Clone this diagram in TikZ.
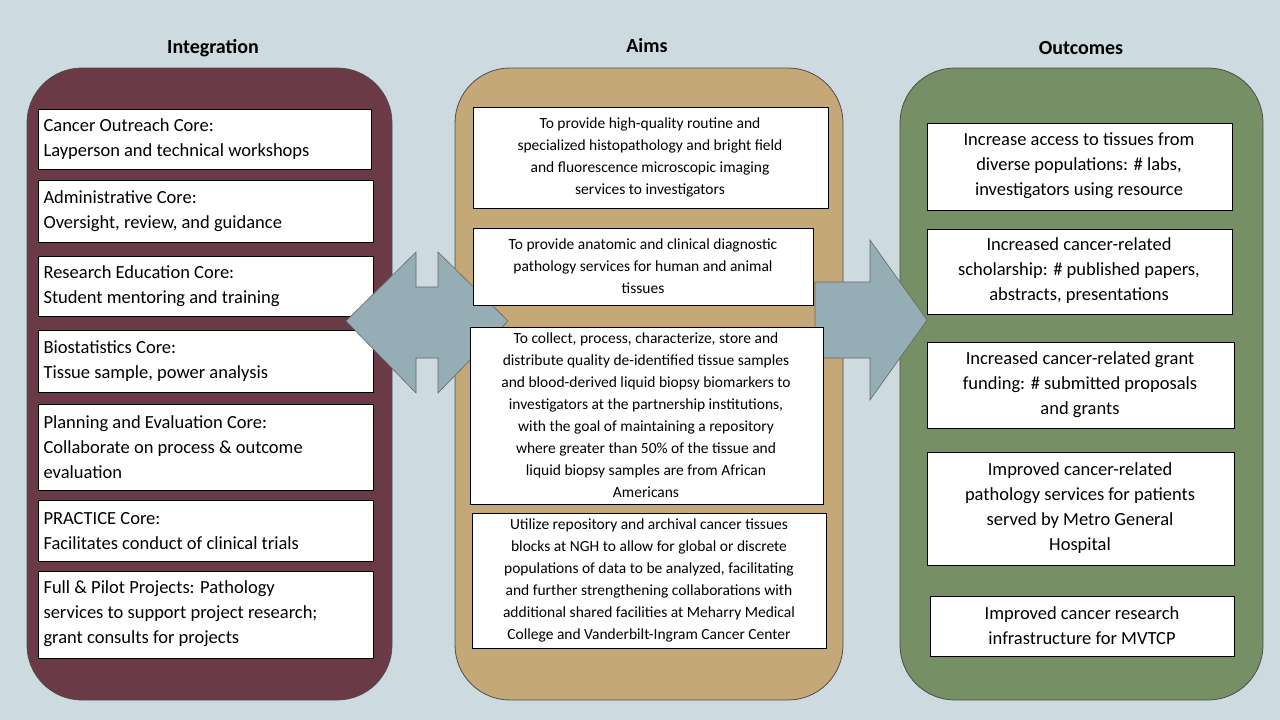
\documentclass[tikz,border=0pt]{standalone}
\usepackage{fontspec}
\setmainfont{Carlito}
\begin{document}
\begin{tikzpicture}[x=1pt,y=-1pt,
  panel/.style={draw=black!70,line width=0.8pt,rounded corners=55pt},
  lbox/.style={draw=black,fill=white,line width=0.6pt},
  arr/.style={draw=black!60,fill=arrowc,line width=0.6pt},
  ltxt/.style={anchor=west,align=left,font=\fontsize{18.5}{25}\selectfont},
  mtxt/.style={align=center,font=\fontsize{15.5}{22}\selectfont},
  rtxt/.style={align=center,font=\fontsize{18.5}{25}\selectfont},
  ttl/.style={font=\bfseries\fontsize{20}{24}\selectfont}]
\definecolor{bgc}{HTML}{CDDBE0}
\definecolor{marc}{HTML}{6B3A47}
\definecolor{tanc}{HTML}{C4A878}
\definecolor{grnc}{HTML}{778F65}
\definecolor{arrowc}{HTML}{95AEB5}
\fill[bgc] (0,0) rectangle (1280,720);
\useasboundingbox (0,0) rectangle (1280,720);
\draw[panel,fill=marc] (27,68) rectangle (392,700);
\draw[panel,fill=tanc] (455,68) rectangle (843,700);
\draw[panel,fill=grnc] (900,68) rectangle (1263,700);
\node[ttl] (t1) at (213,48) {Integration};
\node[ttl] (t2) at (647,46) {Aims};
\node[ttl] (t3) at (1081,48) {Outcomes};
% left boxes
\draw[lbox] (38,109) rectangle (371,169);
\node[ltxt] (l1) at (40,139) {Cancer Outreach Core:\\Layperson and technical workshops};
\draw[lbox] (38,180) rectangle (373,242);
\node[ltxt] (l2) at (40,211) {Administrative Core:\\Oversight, review, and guidance};
\draw[lbox] (38,256) rectangle (373,316);
\node[ltxt] (l3) at (40,286) {Research Education Core:\\Student mentoring and training};
\draw[lbox] (38,330) rectangle (373,392);
\node[ltxt] (l4) at (40,361) {Biostatistics Core:\\Tissue sample, power analysis};
\draw[lbox] (38,404) rectangle (373,490);
\node[ltxt] (l5) at (40,447) {Planning and Evaluation Core:\\Collaborate on process \& outcome\\evaluation};
\draw[lbox] (38,500) rectangle (373,561);
\node[ltxt] (l6) at (40,531) {PRACTICE Core:\\Facilitates conduct of clinical trials};
\draw[lbox] (38,571) rectangle (373,658);
\node[ltxt] (l7) at (40,614) {Full \& Pilot Projects: Pathology\\services to support project research;\\grant consults for projects};
% arrows
\draw[arr] (346,321) -- (416,252) -- (416,287) -- (438,287) -- (438,252) -- (508,321) -- (438,393) -- (438,358) -- (416,358) -- (416,393) -- cycle;
\draw[arr] (815,282) -- (870,282) -- (870,240) -- (927,320) -- (870,400) -- (870,358) -- (815,358) -- cycle;
% middle boxes
\draw[lbox] (473,107) rectangle (828,208);
\node[mtxt] (m1) at (650,157) {To provide high-quality routine and\\specialized histopathology and bright field\\and fluorescence microscopic imaging\\services to investigators};
\draw[lbox] (473,228) rectangle (813,305);
\node[mtxt] (m2) at (643,266) {To provide anatomic and clinical diagnostic\\pathology services for human and animal\\tissues};
\draw[lbox] (470,327) rectangle (823,504);
\node[mtxt] (m3) at (646,415) {To collect, process, characterize, store and\\distribute quality de-identified tissue samples\\and blood-derived liquid biopsy biomarkers to\\investigators at the partnership institutions,\\with the goal of maintaining a repository\\where greater than 50\% of the tissue and\\liquid biopsy samples are from African\\Americans};
\draw[lbox] (472,513) rectangle (826,648);
\node[mtxt] (m4) at (649,580) {Utilize repository and archival cancer tissues\\blocks at NGH to allow for global or discrete\\populations of data to be analyzed, facilitating\\and further strengthening collaborations with\\additional shared facilities at Meharry Medical\\College and Vanderbilt-Ingram Cancer Center};
% right boxes
\draw[lbox] (927,123) rectangle (1232,210);
\node[rtxt] (r1) at (1079,166) {Increase access to tissues from\\diverse populations: \# labs,\\investigators using resource};
\draw[lbox] (927,229) rectangle (1232,314);
\node[rtxt] (r2) at (1079,271) {Increased cancer-related\\scholarship: \# published papers,\\abstracts, presentations};
\draw[lbox] (927,342) rectangle (1234,428);
\node[rtxt] (r3) at (1080,385) {Increased cancer-related grant\\funding: \# submitted proposals\\and grants};
\draw[lbox] (927,452) rectangle (1234,565);
\node[rtxt] (r4) at (1080,508) {Improved cancer-related\\pathology services for patients\\served by Metro General\\Hospital};
\draw[lbox] (930,596) rectangle (1234,656);
\node[rtxt] (r5) at (1082,626) {Improved cancer research\\infrastructure for MVTCP};
\end{tikzpicture}
\end{document}
